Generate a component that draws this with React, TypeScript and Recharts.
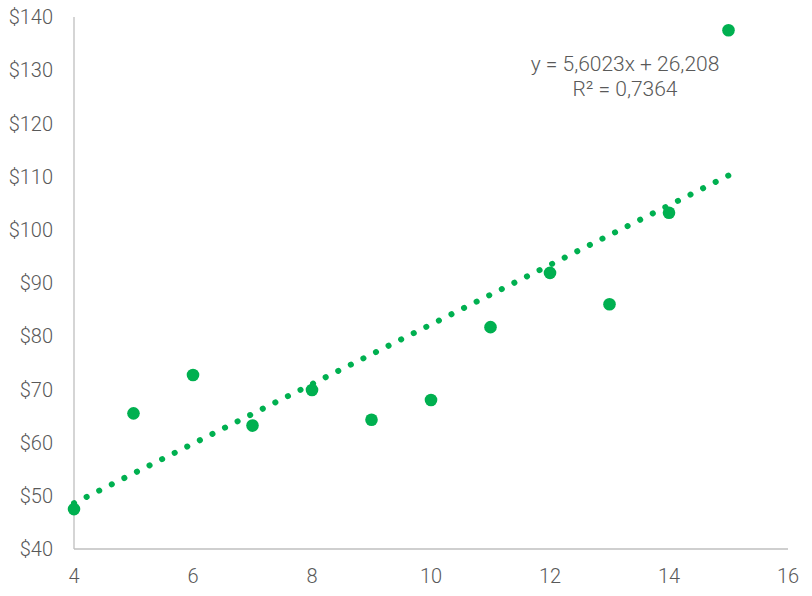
import React from 'react';
import { ScatterChart, Scatter, XAxis, YAxis } from 'recharts';

const xValues = [4, 5, 6, 7, 8, 9, 10, 11, 12, 13, 14, 15];
const prices = [47.5, 65.5, 72.7, 63.2, 69.9, 64.3, 68.0, 81.7, 91.9, 86.0, 103.2, 137.5];

// trendline endpoints
const trendX = [4, 15];
const trendY = [48.6, 110.2];

const xTicks = [4, 6, 8, 10, 12, 14, 16];
const yTicks = [40, 50, 60, 70, 80, 90, 100, 110, 120, 130, 140];

const equationText = 'y = 5,6023x + 26,208';
const rSquaredText = 'R² = 0,7364';

const GREEN = '#00B050';
const AXIS_GREY = '#BFBFBF';
const TEXT_GREY = '#595959';
const FONT = 'Roboto, "Noto Sans", sans-serif';

const points = xValues.map((x, i) => ({ x, y: prices[i] }));
const trend = trendX.map((x, i) => ({ x, y: trendY[i] }));

const tickStyle = { fill: TEXT_GREY, fontSize: 20, fontFamily: FONT, fontWeight: 300 };

const Dot = (props: any) => <circle cx={props.cx} cy={props.cy} r={6.3} fill={GREEN} />;

export default function App() {
  return (
    <div style={{ position: 'absolute', left: 0, top: 0, width: 812, height: 596 }}>
      <ScatterChart width={812} height={596} margin={{ top: 17, right: 24, bottom: 0, left: 0 }}>
        <XAxis
          type="number"
          dataKey="x"
          domain={[4, 16]}
          ticks={xTicks}
          height={47}
          tickLine={false}
          tickSize={0}
          tickMargin={20}
          axisLine={{ stroke: AXIS_GREY, strokeWidth: 1.3 }}
          tick={tickStyle}
        />
        <YAxis
          type="number"
          dataKey="y"
          domain={[40, 140]}
          ticks={yTicks}
          width={74}
          tickLine={false}
          tickSize={0}
          tickMargin={21}
          axisLine={{ stroke: AXIS_GREY, strokeWidth: 1.3 }}
          tick={tickStyle}
          tickFormatter={(v: number) => `$${v}`}
        />
        <Scatter
          data={trend}
          line={{ stroke: GREEN, strokeWidth: 6, strokeDasharray: '0.1 13.97', strokeLinecap: 'round' }}
          shape={() => null}
          isAnimationActive={false}
        />
        <Scatter data={points} shape={Dot} isAnimationActive={false} />
      </ScatterChart>
      <div
        style={{
          position: 'absolute',
          left: 515,
          top: 52,
          width: 220,
          textAlign: 'center',
          fontFamily: FONT,
          fontWeight: 300,
          fontSize: 21,
          lineHeight: '25px',
          color: TEXT_GREY,
        }}
      >
        <div>{equationText}</div>
        <div>{rSquaredText}</div>
      </div>
    </div>
  );
}
